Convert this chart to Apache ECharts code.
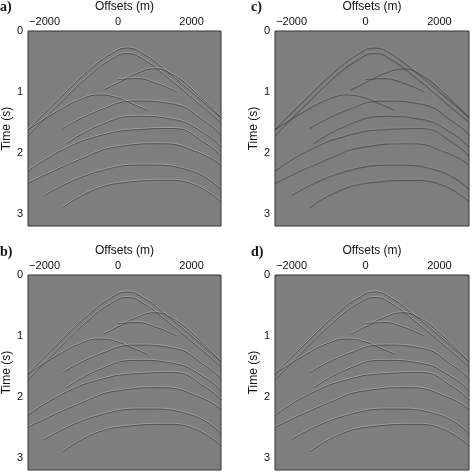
<!DOCTYPE html>
<html>
<head>
<meta charset="utf-8">
<script src="https://cdn.jsdelivr.net/npm/echarts@6/dist/echarts.min.js"></script>
<style>html,body{margin:0;background:#fff}#c{width:474px;height:474px}</style>
</head>
<body>
<div id="c"></div>
<script>
const panelLabels = ['a)', 'c)', 'b)', 'd)'];
const offsetTicks = [-2000, 0, 2000];
const timeTicks = [0, 1, 2, 3];

// events read as (offset m, time s)
const ev1 = [[-2450,1.62],[-1500,1.05],[-800,0.65],[-200,0.38],[250,0.28],[700,0.38],[1300,0.65],[2000,1.0],[2800,1.42]];
const ev1b = [[-2450,1.72],[-1500,1.14],[-800,0.74],[-200,0.47],[250,0.37],[700,0.47],[1300,0.74],[2000,1.09],[2800,1.5]];
const ev2 = [[-2450,1.62],[-1600,1.3],[-1000,1.12],[-500,1.05],[0,1.1],[400,1.2],[800,1.3]];
const ev3 = [[-400,0.97],[100,0.82],[500,0.7],[1000,0.62],[1500,0.72],[2000,0.95],[2800,1.42]];
const ev4 = [[0,0.8],[500,0.78],[1000,0.85],[1600,1.0]];
const ev5 = [[-1500,1.6],[-500,1.3],[500,1.15],[1500,1.2],[2400,1.5],[2800,1.7]];
const ev6 = [[-1400,1.85],[-500,1.55],[500,1.4],[1500,1.45],[2400,1.7],[2800,1.9]];
const ev7 = [[-2450,2.3],[-1500,1.95],[-500,1.72],[500,1.62],[1500,1.6],[2400,1.85],[2800,2.05]];
const ev8 = [[-2450,2.5],[-1000,2.1],[0,1.9],[1200,1.85],[2200,2.0],[2800,2.2]];
const ev9 = [[-2000,2.7],[-500,2.3],[800,2.2],[2000,2.3],[2800,2.6]];
const ev10 = [[-1500,2.9],[0,2.5],[1500,2.45],[2800,2.8]];
const events = [ev1, ev1b, ev2, ev3, ev4, ev5, ev6, ev7, ev8, ev9, ev10];

const boxes = [
    {left: 24, top: 30, width: 197, height: 196},
    {left: 275, top: 30, width: 194, height: 196},
    {left: 24, top: 275, width: 197, height: 195},
    {left: 275, top: 275, width: 194, height: 195}
];
const font = 'Liberation Sans';

const chart = echarts.init(document.getElementById('c'));
const grid = [], xAxis = [], yAxis = [], series = [], graphic = [];
boxes.forEach((b, i) => {
    grid.push(Object.assign({backgroundColor: '#7e7e7e', show: true, borderColor: '#333', borderWidth: 1}, b));
    xAxis.push({
        gridIndex: i, type: 'value', position: 'top', min: -2450, max: 2800,
        name: 'Offsets (m)', nameLocation: 'middle', nameGap: 18,
        nameTextStyle: {fontFamily: font, fontSize: 12, color: '#111'},
        axisLine: {show: false}, splitLine: {show: false},
        axisTick: {show: false},
        axisLabel: {customValues: offsetTicks, fontFamily: font, fontSize: 11, color: '#111', margin: 4,
            formatter: v => (v < 0 ? '\u2212' + (-v) : '' + v)}
    });
    yAxis.push({
        gridIndex: i, type: 'value', inverse: true, min: 0, max: 3.2,
        name: 'Time (s)', nameLocation: 'middle', nameGap: 12,
        nameTextStyle: {fontFamily: font, fontSize: 12, color: '#111'},
        axisLine: {show: false}, splitLine: {show: false},
        axisTick: {show: false},
        axisLabel: {customValues: timeTicks, fontFamily: font, fontSize: 11, color: '#111', margin: 5}
    });
    const noisy = i === 1;
    events.forEach(ev => {
        series.push({
            type: 'line', xAxisIndex: i, yAxisIndex: i, data: ev,
            smooth: true, symbol: 'none', silent: true,
            lineStyle: {
                color: noisy ? 'rgba(30,30,30,0.4)' : 'rgba(20,20,20,0.6)',
                width: noisy ? 1.2 : 0.7,
                shadowColor: noisy ? 'rgba(255,255,255,0.3)' : 'rgba(255,255,255,0.6)',
                shadowOffsetY: -1, shadowBlur: noisy ? 2 : 0
            }
        });
    });
    graphic.push({
        type: 'text', left: b.left - 24, top: b.top - 30,
        style: {text: panelLabels[i], font: 'bold 14px "Liberation Serif"', fill: '#111'}
    });
});

chart.setOption({animation: false, grid, xAxis, yAxis, series, graphic});
</script>
</body>
</html>
